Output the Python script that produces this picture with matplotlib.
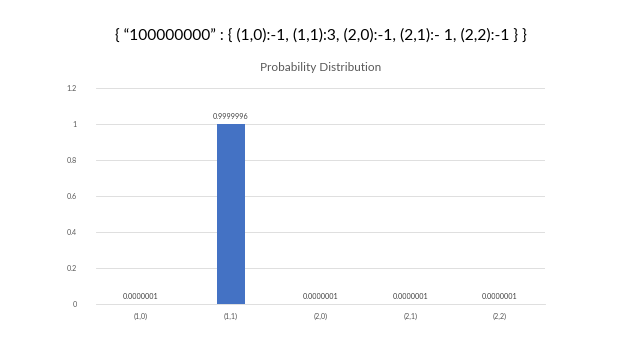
import matplotlib.pyplot as plt

categories = ['(1,0)', '(1,1)', '(2,0)', '(2,1)', '(2,2)']
probs = [0.0000001, 0.9999996, 0.0000001, 0.0000001, 0.0000001]
prob_labels = ['0.0000001', '0.9999996', '0.0000001', '0.0000001', '0.0000001']
yticks = [0, 0.2, 0.4, 0.6, 0.8, 1, 1.2]
ytick_labels = ['0', '0.2', '0.4', '0.6', '0.8', '1', '1.2']

plt.rcParams['font.family'] = ['Lato', 'DejaVu Sans']

fig = plt.figure(figsize=(6.38, 3.59), dpi=100)
ax = fig.add_axes([0.1505, 0.153, 0.7035, 0.602])

x = range(len(categories))
bars = ax.bar(x, probs, width=0.31, color='#4472C4', zorder=3)
for xi, v, lab in zip(x, probs, prob_labels):
    ax.text(xi, v + 0.02, lab, ha='center', va='bottom', fontsize=5.2, color='#404040')

ax.set_xlim(-0.5, len(categories) - 0.5)
ax.set_ylim(0, 1.2)
ax.set_yticks(yticks)
ax.set_yticklabels(ytick_labels)
ax.set_xticks(list(x))
ax.set_xticklabels(categories)
ax.tick_params(axis='both', length=0, labelsize=5.2, labelcolor='#595959')
ax.tick_params(axis='y', pad=14)
ax.tick_params(axis='x', pad=6)
ax.grid(axis='y', color='#D9D9D9', linewidth=0.6, zorder=0)
for s in ['top', 'right', 'left']:
    ax.spines[s].set_visible(False)
ax.spines['bottom'].set_color('#D9D9D9')
ax.spines['bottom'].set_linewidth(0.6)

ax.set_title('Probability Distribution', fontsize=8.5, color='#595959', pad=12)

fig.text(0.503, 0.902, '{ \u201c100000000\u201d : { (1,0):-1, (1,1):3, (2,0):-1, (2,1):- 1, (2,2):-1 } }',
         ha='center', va='center', fontsize=11.2, color='black')

fig.savefig('out.png', dpi=100)
